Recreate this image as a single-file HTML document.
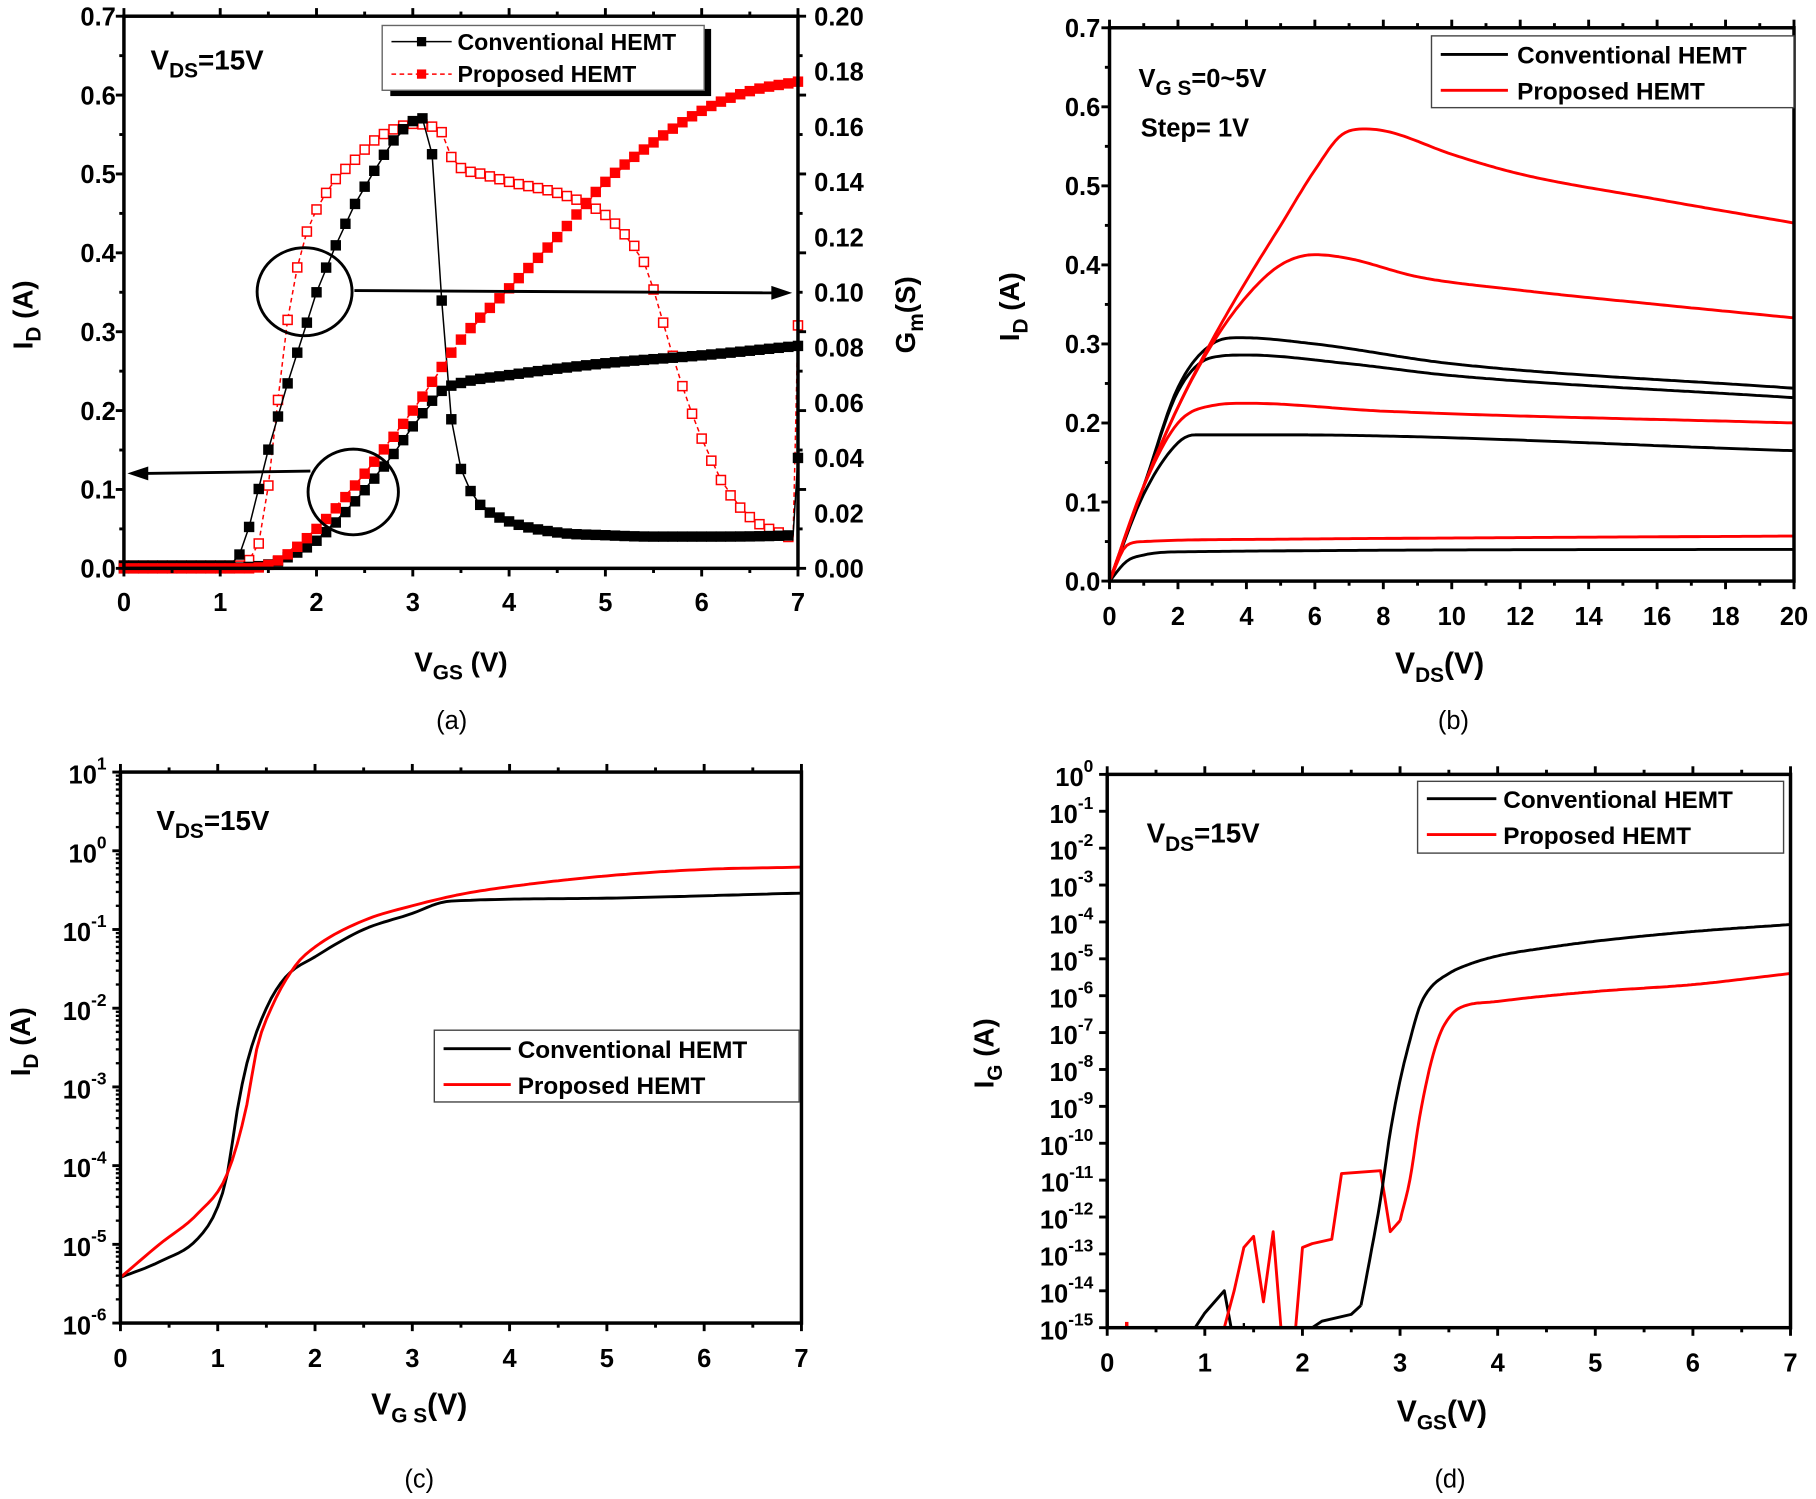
<!DOCTYPE html>
<html><head><meta charset="utf-8"><style>
html,body{margin:0;padding:0;background:#fff;}
svg{display:block;}
text{font-family:"Liberation Sans",Arial,sans-serif;}
.b{font-weight:bold;}
</style></head><body>
<svg id="s" width="1816" height="1499" viewBox="0 0 1568 1295" preserveAspectRatio="none" xmlns="http://www.w3.org/2000/svg"></svg>
<script>
const S=document.getElementById('s');let H='';
function interp(pts,x){const n=pts.length;if(x<=pts[0][0])return pts[0][1];if(x>=pts[n-1][0])return pts[n-1][1];
const d=[],m=[];for(let i=0;i<n-1;i++)d.push((pts[i+1][1]-pts[i][1])/(pts[i+1][0]-pts[i][0]));
m[0]=d[0];m[n-1]=d[n-2];for(let i=1;i<n-1;i++){m[i]=(d[i-1]*d[i]<=0)?0:(d[i-1]+d[i])/2;}
for(let i=0;i<n-1;i++){if(d[i]==0){m[i]=0;m[i+1]=0;continue;}const a=m[i]/d[i],b=m[i+1]/d[i];const s=a*a+b*b;if(s>9){const t=3/Math.sqrt(s);m[i]=t*a*d[i];m[i+1]=t*b*d[i];}}
for(let i=1;i<n;i++){if(x<=pts[i][0]){const x0=pts[i-1][0],h=pts[i][0]-x0,t=(x-x0)/h;const t2=t*t,t3=t2*t;
return (2*t3-3*t2+1)*pts[i-1][1]+(t3-2*t2+t)*h*m[i-1]+(-2*t3+3*t2)*pts[i][1]+(t3-t2)*h*m[i];}}}
function interpLog(pts,x){const p=pts.map(q=>[q[0],Math.log10(q[1])]);return Math.pow(10,interp(p,x));}
function path(d,c,w,extra){H+=`<path d="${d}" fill="none" stroke="${c}" stroke-width="${w}" stroke-linejoin="round" ${extra||''}/>`;}
function line(x1,y1,x2,y2,c,w){H+=`<line x1="${x1}" y1="${y1}" x2="${x2}" y2="${y2}" stroke="${c||'#000'}" stroke-width="${w||2}"/>`;}
function txt(x,y,s,size,anchor,extra){H+=`<text x="${x}" y="${y}" font-size="${size}" text-anchor="${anchor||'middle'}" class="b" ${extra||''}>${s}</text>`;}
function frame(x0,y0,x1,y1){H+=`<rect x="${x0}" y="${y0}" width="${x1-x0}" height="${y1-y0}" fill="none" stroke="#000" stroke-width="3"/>`;}
function xt(x0,x1,y0,y1,n,minor){for(let i=0;i<=n*minor;i++){const x=x0+(x1-x0)*i/(n*minor);const L=i%minor==0?7:4;line(x,y1,x,y1+L,'#000',2.5);line(x,y0,x,y0-L,'#000',2.5);}}
function yt(x0,x1,y0,y1,n,minor,right){for(let i=0;i<=n*minor;i++){const y=y1-(y1-y0)*i/(n*minor);const L=i%minor==0?7:4;line(x0,y,x0-L,y,'#000',2.5);if(right)line(x1,y,x1+L,y,'#000',2.5);}}
// ---------- (a)
{const X0=107,X1=689,Y0=14,Y1=491;const fx=v=>X0+(X1-X0)*v/7,fy=i=>Y1-(Y1-Y0)*i/0.7,fg=g=>Y1-(Y1-Y0)*g/0.2;
const cI=[[0,0],[1.1,0],[1.2,0.001],[1.5,0.005],[1.8,0.02],[2,0.035],[2.4,0.085],[2.8,0.145],[3,0.18],[3.3,0.225],[3.5,0.235],[4,0.245],[5,0.26],[6,0.27],[7,0.282]];
const pI=[[0,0],[1.3,0],[1.6,0.01],[2,0.05],[2.5,0.12],[3,0.2],[3.5,0.29],[4,0.355],[4.5,0.42],[5,0.49],[5.5,0.54],[6,0.58],[6.5,0.605],[7,0.617]];
const cG=[[0,0.001],[1.1,0.001],[1.2,0.005],[1.3,0.015],[1.5,0.043],[1.6,0.055],[1.7,0.067],[1.9,0.089],[2,0.1],[2.2,0.117],[2.4,0.132],[2.6,0.144],[2.8,0.155],[3,0.162],[3.1,0.163],[3.2,0.15],[3.3,0.097],[3.4,0.054],[3.5,0.036],[3.6,0.028],[3.7,0.023],[4,0.017],[4.5,0.013],[5,0.012],[5.5,0.0115],[6,0.0115],[6.95,0.012],[7,0.04]];
const pG=[[0,0.001],[1.2,0.001],[1.3,0.003],[1.4,0.009],[1.5,0.03],[1.6,0.061],[1.7,0.09],[1.8,0.109],[1.9,0.122],[2,0.13],[2.1,0.136],[2.2,0.141],[2.4,0.148],[2.6,0.155],[2.8,0.159],[3,0.161],[3.2,0.16],[3.3,0.158],[3.4,0.149],[3.5,0.145],[3.7,0.143],[4,0.14],[4.5,0.136],[4.8,0.132],[5,0.128],[5.2,0.121],[5.4,0.111],[5.5,0.101],[5.6,0.089],[5.7,0.077],[5.8,0.066],[5.9,0.056],[6,0.047],[6.2,0.032],[6.4,0.022],[6.6,0.016],[6.8,0.013],[6.95,0.011],[7,0.088]];
function series(pts,f,col,dash,fill){let d='';for(let i=0;i<pts.length;i++){d+=(i?'L':'M')+fx(pts[i][0]).toFixed(1)+','+f(pts[i][1]).toFixed(1);}path(d,col,1.3,dash?'stroke-dasharray="4,3"':'');
for(let k=0;k<=70;k++){const v=k/10;const y=f(interp(pts,v));const x=fx(v);const s=9;H+=fill?`<rect x="${x-s/2}" y="${y-s/2}" width="${s}" height="${s}" fill="${col}"/>`:`<rect x="${x-s/2+0.6}" y="${y-s/2+0.6}" width="${s-1.2}" height="${s-1.2}" fill="#fff" stroke="${col}" stroke-width="1.3"/>`;}}
series(pG,fg,'#f00',true,false);series(cG,fg,'#000',false,true);series(cI,fy,'#000',false,true);series(pI,fy,'#f00',true,true);
frame(X0,Y0,X1,Y1);xt(X0,X1,Y0,Y1,7,2);yt(X0,X1,Y0,Y1,7,2,true);
for(let i=0;i<=7;i++){txt(X0-7,fy(i/10)+8,(i/10).toFixed(1),22,'end');txt(fx(i),Y1+37,i,22);}
for(let i=0;i<=10;i++){txt(X1+14,fg(i*0.02)+8,(i*0.02).toFixed(2),22,'start');}
txt(398,580,'V<tspan font-size="18" dy="7">GS</tspan><tspan dy="-7"> (V)</tspan>',24);
H+=`<text x="390" y="630" font-size="22" text-anchor="middle">(a)</text>`;
txt(0,0,'I<tspan font-size="18" dy="7">D</tspan><tspan dy="-7"> (A)</tspan>',24,'middle','transform="translate(28,272) rotate(-90)"');
txt(0,0,'G<tspan font-size="18" dy="7">m</tspan><tspan dy="-7">(S)</tspan>',24,'middle','transform="translate(790,272) rotate(-90)"');
txt(130,60,'V<tspan font-size="18" dy="7">DS</tspan><tspan dy="-7">=15V</tspan>',24,'start');
H+=`<rect x="337" y="25" width="277" height="58" fill="#000"/><rect x="330" y="22" width="278" height="56" fill="#fff" stroke="#666" stroke-width="1.2"/>`;
line(338,36,390,36,'#000',1.3);H+=`<rect x="360" y="32" width="8" height="8" fill="#000"/>`;
path('M338,64 L390,64','#f00',1.3,'stroke-dasharray="4,3"');H+=`<rect x="360" y="60" width="8" height="8" fill="#f00"/>`;
txt(395,43,'Conventional HEMT',20,'start');txt(395,71,'Proposed HEMT',20,'start');
H+=`<ellipse cx="263" cy="252" rx="41" ry="38" fill="none" stroke="#000" stroke-width="2.5"/><ellipse cx="305" cy="425" rx="39" ry="37" fill="none" stroke="#000" stroke-width="2.5"/>`;
line(306,251,670,253,'#000',2.5);H+=`<polygon points="684,253 666,247 666,259" fill="#000"/>`;
line(268,407,125,409,'#000',2.5);H+=`<polygon points="110,409 128,403 128,415" fill="#000"/>`;}
// ---------- (b)
{const X0=958,X1=1549,Y0=24,Y1=502;const fx=v=>X0+(X1-X0)*v/20,fy=i=>Y1-(Y1-Y0)*i/0.7;
const cur=[['#000',[[0,0],[0.5,0.025],[1,0.033],[2,0.037],[20,0.04]]],['#000',[[0,0],[1,0.11],[2,0.175],[2.5,0.185],[5,0.185],[20,0.165]]],['#000',[[0,0],[1,0.12],[2,0.24],[3,0.283],[4,0.286],[7,0.275],[10,0.26],[20,0.232]]],['#000',[[0,0],[1,0.12],[2,0.245],[3,0.3],[3.8,0.308],[6,0.3],[10,0.275],[20,0.244]]],
['#f00',[[0,0],[20,0]]],['#f00',[[0,0],[0.5,0.045],[1,0.05],[5,0.053],[20,0.057]]],['#f00',[[0,0],[1,0.12],[2,0.2],[3,0.222],[4,0.225],[8,0.215],[20,0.2]]],['#f00',[[0,0],[1,0.12],[2,0.22],[3,0.3],[4,0.36],[5,0.4],[6,0.413],[7,0.408],[9,0.385],[12,0.368],[16,0.35],[20,0.333]]],['#f00',[[0,0],[1,0.12],[2,0.22],[3,0.305],[4,0.38],[5,0.45],[6,0.52],[6.8,0.565],[7.5,0.572],[8.2,0.568],[10,0.54],[12,0.515],[16,0.483],[20,0.453]]]];
for(const [c,p] of cur){let d='';for(let k=0;k<=200;k++){const v=k/10;d+=(k?'L':'M')+fx(v).toFixed(1)+','+fy(interp(p,v)).toFixed(1);}path(d,c,2.5);}
frame(X0,Y0,X1,Y1);xt(X0,X1,Y0,Y1,10,2);yt(X0,X1,Y0,Y1,7,2,false);
for(let i=0;i<=7;i++)txt(X0-8,fy(i/10)+8,(i/10).toFixed(1),22,'end');
for(let i=0;i<=10;i++)txt(fx(i*2),Y1+38,i*2,22);
txt(1243,582,'V<tspan font-size="18" dy="7">DS</tspan><tspan dy="-7">(V)</tspan>',26);
H+=`<text x="1255" y="630" font-size="22" text-anchor="middle">(b)</text>`;
txt(0,0,'I<tspan font-size="18" dy="7">D</tspan><tspan dy="-7"> (A)</tspan>',24,'middle','transform="translate(880,265) rotate(-90)"');
txt(983,75,'V<tspan font-size="18" dy="7">G S</tspan><tspan dy="-7">=0~5V</tspan>',22,'start');txt(985,118,'Step= 1V',22,'start');
H+=`<rect x="1236" y="31" width="313" height="62" fill="#fff" stroke="#444" stroke-width="1.2"/>`;
line(1244,47,1302,47,'#000',2.5);line(1244,78,1302,78,'#f00',2.5);txt(1310,55,'Conventional HEMT',21,'start');txt(1310,86,'Proposed HEMT',21,'start');}
// ---------- (c)
{const X0=104,X1=692,Y0=667,Y1=1143;const fx=v=>X0+(X1-X0)*v/7,fy=i=>Y1-(Y1-Y0)*(Math.log10(i)+6)/7;
const c=[[0,3.8e-6],[0.4,6e-6],[0.8,1.2e-5],[1.0,3e-5],[1.1,8e-5],[1.2,5e-4],[1.3,2e-3],[1.5,1e-2],[1.7,2.5e-2],[2,4.5e-2],[2.5,1e-1],[3,1.6e-1],[3.3,2.2e-1],[3.6,2.35e-1],[5,2.5e-1],[7,2.9e-1]];
const p=[[0,3.8e-6],[0.4,1e-5],[0.8,2.5e-5],[1.1,8e-5],[1.3,6e-4],[1.4,3e-3],[1.55,1e-2],[1.8,3.5e-2],[2,6e-2],[2.5,1.3e-1],[3,2e-1],[3.5,2.8e-1],[4,3.5e-1],[5,4.8e-1],[6,5.8e-1],[7,6.2e-1]];
for(const [col,pts] of [['#000',c],['#f00',p]]){let d='';for(let k=0;k<=140;k++){const v=k/20;d+=(k?'L':'M')+fx(v).toFixed(1)+','+fy(interpLog(pts,v)).toFixed(1);}path(d,col,2.5);}
frame(X0,Y0,X1,Y1);xt(X0,X1,Y0,Y1,7,2);
for(let e=-6;e<=1;e++){const y=fy(Math.pow(10,e));line(X0,y,X0-7,y,'#000',2.5);if(e<1)for(let m=2;m<10;m++){const yy=fy(m*Math.pow(10,e));line(X0,yy,X0-4,yy,'#000',2);}
txt(X0-12,y+10,'10<tspan font-size="15" dy="-12">'+e+'</tspan>',22,'end');}
for(let i=0;i<=7;i++)txt(fx(i),Y1+38,i,22);
txt(362,1222,'V<tspan font-size="18" dy="7">G S</tspan><tspan dy="-7">(V)</tspan>',26);
H+=`<text x="362" y="1285" font-size="22" text-anchor="middle">(c)</text>`;
txt(0,0,'I<tspan font-size="18" dy="7">D</tspan><tspan dy="-7"> (A)</tspan>',24,'middle','transform="translate(26,900) rotate(-90)"');
txt(135,717,'V<tspan font-size="18" dy="7">DS</tspan><tspan dy="-7">=15V</tspan>',24,'start');
H+=`<rect x="375" y="890" width="315" height="62" fill="#fff" stroke="#444" stroke-width="1.2"/>`;
line(383,906,441,906,'#000',2.5);line(383,937,441,937,'#f00',2.5);txt(447,914,'Conventional HEMT',21,'start');txt(447,945,'Proposed HEMT',21,'start');}
// ---------- (d)
{const X0=956,X1=1546,Y0=669,Y1=1147;const fx=v=>X0+(X1-X0)*v/7,fy=i=>Math.min(Y1,Y1-(Y1-Y0)*(Math.log10(i)+15)/15);
const c1=[[0.9,1e-15],[1.0,2.5e-15],[1.2,1e-14],[1.27,1e-15]];
const c2a=[[2.1,1e-15],[2.2,1.5e-15],[2.5,2.3e-15],[2.6,4e-15]];
const c2=[[2.6,4e-15],[2.7,1e-13],[2.8,3e-12],[2.9,2e-10],[3.0,5e-9],[3.1,6e-8],[3.2,5e-7],[3.3,1.5e-6],[3.5,4e-6],[3.7,7e-6],[4,1.2e-5],[4.5,2e-5],[5,3e-5],[6,5.5e-5],[7,8.5e-5]];
const p1=[[1.2,1e-15],[1.3,1e-14],[1.4,1.5e-13],[1.5,3e-13],[1.6,5e-15],[1.7,4e-13],[1.78,1e-15]];
const p2a=[[1.93,1e-15],[2.0,1.5e-13],[2.1,1.9e-13],[2.3,2.5e-13],[2.4,1.5e-11],[2.8,1.8e-11],[2.9,4e-13],[3.0,8e-13]];
const p2=[[3.0,8e-13],[3.1,1e-11],[3.2,5e-10],[3.3,1e-8],[3.4,8e-8],[3.5,2.5e-7],[3.6,4.5e-7],[4,7e-7],[5,1.3e-6],[6,2e-6],[7,4e-6]];
for(const [col,pts] of [['#000',c1],['#000',c2a],['#f00',p1],['#f00',p2a]]){let d='';pts.forEach((q,i)=>{d+=(i?'L':'M')+fx(q[0]).toFixed(1)+','+fy(q[1]).toFixed(1);});path(d,col,2.5);}
for(const [col,pts] of [['#000',c2],['#f00',p2]]){let d='';const a=pts[0][0],b=pts[pts.length-1][0];for(let k=0;k<=200;k++){const v=a+(b-a)*k/200;d+=(k?'L':'M')+fx(v).toFixed(1)+','+fy(interpLog(pts,v)).toFixed(1);}path(d,col,2.5);}
line(fx(0.2),Y1-5,fx(0.2),Y1,'#f00',3);line(fx(1.4),Y1-4,fx(1.4),Y1,'#000',2);
frame(X0,Y0,X1,Y1);xt(X0,X1,Y0,Y1,7,2);
for(let e=-15;e<=0;e++){const y=fy(Math.pow(10,e));line(X0,y,X0-7,y,'#000',2.5);txt(X0-12,y+10,'10<tspan font-size="15" dy="-12">'+e+'</tspan>',22,'end');}
for(let i=0;i<=7;i++)txt(fx(i),Y1+38,i,22);
txt(1245,1228,'V<tspan font-size="18" dy="7">GS</tspan><tspan dy="-7">(V)</tspan>',26);
H+=`<text x="1252" y="1285" font-size="22" text-anchor="middle">(d)</text>`;
txt(0,0,'I<tspan font-size="18" dy="7">G</tspan><tspan dy="-7"> (A)</tspan>',24,'middle','transform="translate(858,910) rotate(-90)"');
txt(990,728,'V<tspan font-size="18" dy="7">DS</tspan><tspan dy="-7">=15V</tspan>',24,'start');
H+=`<rect x="1224" y="675" width="316" height="62" fill="#fff" stroke="#444" stroke-width="1.2"/>`;
line(1232,690,1292,690,'#000',2.5);line(1232,721,1292,721,'#f00',2.5);txt(1298,698,'Conventional HEMT',21,'start');txt(1298,729,'Proposed HEMT',21,'start');}
S.innerHTML=H;
</script>
</body></html>
